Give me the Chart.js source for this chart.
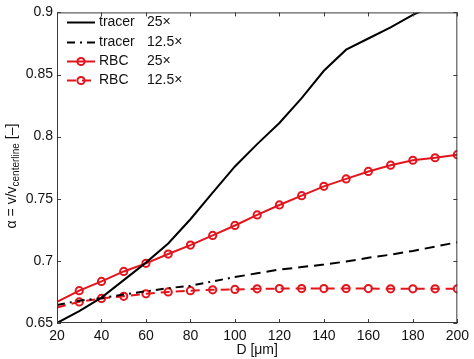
<!DOCTYPE html>
<html>
<head>
<meta charset="utf-8">
<script src="https://cdn.jsdelivr.net/npm/chart.js@4"></script>
<style>
  body { margin: 0; background: #fff; }
  #wrap { width: 474px; height: 359px; }
</style>
</head>
<body>
<div id="wrap"><canvas id="chart" width="474" height="359"></canvas></div>
<script>
// vessel diameter D [um]
var diameters = [20, 30, 40, 50, 60, 70, 80, 90, 100, 110, 120, 130, 140, 150, 160, 170, 180, 190, 200];

var tracer25 = [0.650, 0.6596, 0.6704, 0.6845, 0.6986, 0.714, 0.7335, 0.755, 0.776, 0.794, 0.811, 0.831, 0.853, 0.870, 0.879, 0.888, 0.898, 0.906, 0.913];
var tracer125 = [0.6645, 0.668, 0.670, 0.673, 0.6755, 0.678, 0.680, 0.6835, 0.687, 0.690, 0.693, 0.695, 0.697, 0.6995, 0.7025, 0.705, 0.708, 0.7115, 0.715];
var rbc25 = [0.667, 0.676, 0.6835, 0.6915, 0.698, 0.7055, 0.7127, 0.7205, 0.7285, 0.737, 0.745, 0.7525, 0.760, 0.766, 0.772, 0.777, 0.781, 0.783, 0.7855];
var rbc125 = [0.6625, 0.667, 0.6698, 0.6715, 0.6735, 0.675, 0.676, 0.6767, 0.677, 0.6775, 0.6777, 0.6777, 0.6777, 0.6777, 0.6777, 0.6775, 0.6775, 0.6775, 0.6775];

var xTicks = [20, 40, 60, 80, 100, 120, 140, 160, 180, 200];
var yTicks = [0.65, 0.7, 0.75, 0.8, 0.85, 0.9];

var legendNames = ["tracer", "tracer", "RBC", "RBC"];
var legendMags = ["25\u00d7", "12.5\u00d7", "25\u00d7", "12.5\u00d7"];

var RED = "#e3141c";
var FONT = "'Liberation Sans', Arial, sans-serif";

window.onload = main;

function pts(vals) {
    return vals.map(function (v, i) { return { x: diameters[i], y: v }; });
}

function markerRadius(ctx) {
    return ctx.dataIndex === 0 ? 0 : 3.6;
}

var framePlugin = {
    id: "frame",
    afterDatasetsDraw: function (chart) {
        var ctx = chart.ctx;
        var a = chart.chartArea;
        var xs = chart.scales.x, ys = chart.scales.y;
        ctx.save();
        ctx.strokeStyle = "#3a3a3a";
        ctx.lineWidth = 1;
        ctx.setLineDash([]);
        ctx.strokeRect(a.left + 0.5, a.top + 0.5, a.right - a.left - 1, a.bottom - a.top - 1);
        ctx.beginPath();
        xTicks.forEach(function (t) {
            var x = Math.round(xs.getPixelForValue(t)) + 0.5;
            ctx.moveTo(x, a.bottom); ctx.lineTo(x, a.bottom - 4);
            ctx.moveTo(x, a.top); ctx.lineTo(x, a.top + 4);
        });
        yTicks.forEach(function (t) {
            var y = Math.round(ys.getPixelForValue(t)) + 0.5;
            ctx.moveTo(a.left, y); ctx.lineTo(a.left + 4, y);
            ctx.moveTo(a.right, y); ctx.lineTo(a.right - 4, y);
        });
        ctx.stroke();

        // legend
        ctx.font = "14px " + FONT;
        ctx.textBaseline = "middle";
        ctx.textAlign = "left";
        var rows = [22, 42, 61, 80];
        chart.data.datasets.forEach(function (ds, i) {
            var y = rows[i] + 0.5;
            ctx.strokeStyle = ds.borderColor;
            ctx.lineWidth = 2;
            ctx.setLineDash(i === 1 ? [8, 5, 2, 5] : (i === 3 ? [9, 6] : []));
            ctx.beginPath();
            ctx.moveTo(67, y); ctx.lineTo(95, y);
            ctx.stroke();
            ctx.setLineDash([]);
            if (i >= 2) {
                ctx.beginPath();
                ctx.arc(81, y, 3.6, 0, Math.PI * 2);
                ctx.stroke();
            }
            ctx.fillStyle = "#111";
            ctx.fillText(legendNames[i], 99, y);
            ctx.fillText(legendMags[i], 147, y);
        });

        // axis titles
        ctx.fillStyle = "#111";
        ctx.textAlign = "center";
        ctx.fillText("D [\u03bcm]", (a.left + a.right) / 2, 350);

        ctx.translate(12, 176);
        ctx.rotate(-Math.PI / 2);
        ctx.textAlign = "left";
        var p1 = "\u03b1 = v/v", p2 = "centerline", p3 = " [\u2013]";
        ctx.font = "14px " + FONT;
        var w1 = ctx.measureText(p1).width, w3 = ctx.measureText(p3).width;
        ctx.font = "10px " + FONT;
        var w2 = ctx.measureText(p2).width;
        var x0 = -(w1 + w2 + w3) / 2;
        ctx.font = "14px " + FONT;
        ctx.fillText(p1, x0, 0);
        ctx.font = "10px " + FONT;
        ctx.fillText(p2, x0 + w1, 4);
        ctx.font = "14px " + FONT;
        ctx.fillText(p3, x0 + w1 + w2, 0);
        ctx.restore();
    }
};

function main() {
    new Chart(document.getElementById("chart"), {
        type: "line",
        data: {
            datasets: [
                {
                    label: "tracer 25\u00d7",
                    data: pts(tracer25),
                    borderColor: "#000",
                    borderWidth: 2,
                    pointRadius: 0,
                    tension: 0
                },
                {
                    label: "tracer 12.5\u00d7",
                    data: pts(tracer125),
                    borderColor: "#000",
                    borderWidth: 2,
                    pointRadius: 0,
                    segment: {
                        borderDash: function (c) { return c.p0.parsed.x < 100 ? [8, 5, 2, 5] : [10, 6]; }
                    }
                },
                {
                    label: "RBC 25\u00d7",
                    data: pts(rbc25),
                    borderColor: RED,
                    borderWidth: 2,
                    pointRadius: markerRadius,
                    pointBorderWidth: 2,
                    pointBorderColor: RED,
                    pointBackgroundColor: "rgba(0,0,0,0)"
                },
                {
                    label: "RBC 12.5\u00d7",
                    data: pts(rbc125),
                    borderColor: RED,
                    borderWidth: 2,
                    borderDash: [9, 6],
                    pointRadius: markerRadius,
                    pointBorderWidth: 2,
                    pointBorderColor: RED,
                    pointBackgroundColor: "rgba(0,0,0,0)"
                }
            ]
        },
        options: {
            responsive: false,
            animation: false,
            layout: { padding: { left: 0, right: 12, top: 5, bottom: 0 } },
            plugins: {
                legend: { display: false },
                tooltip: { enabled: false }
            },
            scales: {
                x: {
                    type: "linear",
                    min: 20,
                    max: 200,
                    afterBuildTicks: function (s) { s.ticks = xTicks.map(function (v) { return { value: v }; }); },
                    afterFit: function (s) { s.height = 36; },
                    grid: { display: false, drawTicks: false },
                    border: { display: false },
                    ticks: {
                        padding: 5,
                        color: "#111",
                        font: { size: 14, family: FONT },
                        maxRotation: 0,
                        autoSkip: false
                    }
                },
                y: {
                    min: 0.65,
                    max: 0.9,
                    afterBuildTicks: function (s) { s.ticks = yTicks.map(function (v) { return { value: v }; }); },
                    afterFit: function (s) { s.width = 57; },
                    grid: { display: false, drawTicks: false },
                    border: { display: false },
                    ticks: {
                        padding: 4,
                        color: "#111",
                        font: { size: 14, family: FONT },
                        callback: function (v) { return String(Number(v.toFixed(2))); }
                    }
                }
            }
        },
        plugins: [framePlugin]
    });
}
</script>
</body>
</html>
